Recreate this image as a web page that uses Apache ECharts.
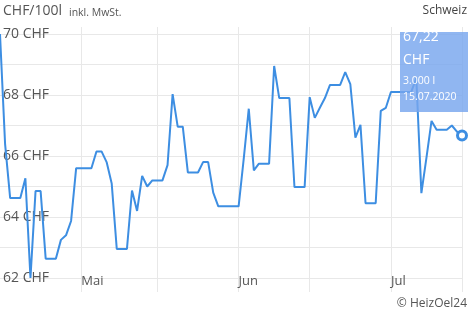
<!DOCTYPE html>
<html>
<head>
<meta charset="utf-8">
<script src="https://cdn.jsdelivr.net/npm/echarts@6/dist/echarts.min.js"></script>
<style>
html,body{margin:0;padding:0;background:#fff;}
#c{width:472px;height:320px;}
</style>
</head>
<body>
<div id="c"></div>
<script>
// daily dates 15.04.2020 - 15.07.2020
const startDate = '2020-04-15';
const dayCount = 92;
const prices = [
  70.0, 66.4, 64.62, 64.62, 64.62, 65.27, 62.0, 64.85, 64.85, 62.63,
  62.63, 62.63, 63.25, 63.4, 63.87, 65.6, 65.6, 65.6, 65.6, 66.15,
  66.15, 65.8, 65.1, 62.95, 62.95, 62.95, 64.87, 64.2, 65.35, 65.0,
  65.2, 65.2, 65.2, 65.7, 68.03, 66.96, 66.96, 65.46, 65.46, 65.46,
  65.8, 65.8, 64.8, 64.35, 64.35, 64.35, 64.35, 64.35, 65.9, 67.55,
  65.53, 65.75, 65.75, 65.75, 68.95, 67.9, 67.9, 67.9, 64.98, 64.98,
  64.98, 67.93, 67.25, 67.58, 67.9, 68.33, 68.33, 68.33, 68.75, 68.36,
  66.6, 67.02, 64.45, 64.45, 64.45, 67.48, 67.58, 68.1, 68.1, 68.1,
  68.1, 68.1, 68.55, 64.78, 65.95, 67.15, 66.86, 66.86, 66.86, 67.0,
  66.8, 66.67
];
const monthLabels = {'05-01':'Mai','06-01':'Jun','07-01':'Jul'};
const gridDays = ['05-01','05-16','06-01','06-15','07-01','07-15'];
const yTicks = [62, 64, 66, 68, 70];
const tooltipLines = ['67,22', 'CHF', '3.000 l', '15.07.2020'];

const dates = [];
(function(){
  const d0 = new Date(startDate + 'T12:00:00Z');
  for (let i = 0; i < dayCount; i++) {
    const d = new Date(d0.getTime() + i * 86400000);
    const mm = String(d.getUTCMonth() + 1).padStart(2, '0');
    const dd = String(d.getUTCDate()).padStart(2, '0');
    dates.push(mm + '-' + dd);
  }
})();

const gridFn = (idx, val) => gridDays.indexOf(val) >= 0;
const labelFn = (idx, val) => monthLabels[val] !== undefined;
const font = '"Open Sans", sans-serif';
const gridColor = '#e8e8e8';
const lineColor = '#3d8ee2';
const last = prices.length - 1;

const chart = echarts.init(document.getElementById('c'), null, {renderer: 'canvas'});
chart.setOption({
  animation: false,
  grid: {left: 0, right: 10, top: 34, bottom: 42, containLabel: false},
  xAxis: [{
    type: 'category',
    data: dates,
    boundaryGap: false,
    axisLine: {show: false},
    axisTick: {show: true, interval: gridFn, length: 14, lineStyle: {color: gridColor}},
    splitLine: {show: true, interval: gridFn, lineStyle: {color: gridColor}},
    axisLabel: {
      interval: labelFn,
      formatter: v => monthLabels[v] || '',
      align: 'left',
      verticalAlign: 'middle',
      margin: 3,
      color: '#555',
      fontSize: 13,
      fontFamily: font
    }
  }, {
    type: 'category',
    data: dates,
    position: 'top',
    boundaryGap: false,
    axisLine: {show: false},
    axisTick: {show: true, interval: gridFn, length: 7, lineStyle: {color: gridColor}},
    axisLabel: {show: false},
    splitLine: {show: false}
  }],
  yAxis: {
    type: 'value',
    min: 62, max: 70, interval: 1,
    axisLine: {show: false},
    axisTick: {show: false},
    splitLine: {lineStyle: {color: gridColor}},
    axisLabel: {
      inside: true,
      margin: 3,
      color: '#555',
      fontSize: 14,
      fontFamily: font,
      formatter: v => yTicks.indexOf(v) >= 0 ? v + ' CHF' : ''
    }
  },
  series: [{
    type: 'line',
    data: prices,
    showSymbol: false,
    symbol: 'none',
    lineStyle: {width: 2, color: lineColor},
    z: 3
  }, {
    type: 'scatter',
    data: [[dates[last], prices[last]]],
    symbol: 'circle',
    symbolSize: 9,
    itemStyle: {color: '#fff', borderColor: lineColor, borderWidth: 3, opacity: 1},
    z: 4
  }],
  graphic: [
    {type: 'text', left: 3, top: 4, z: 100,
     style: {text: 'CHF/100l', fill: '#555', font: '14px ' + font}},
    {type: 'text', left: 69, top: 8, z: 100,
     style: {text: 'inkl. MwSt.', fill: '#555', font: '10.5px ' + font}},
    {type: 'text', right: 5, top: 5, z: 100,
     style: {text: 'Schweiz', fill: '#444', font: '12px ' + font}},
    {type: 'text', right: 5, top: 298, z: 100,
     style: {text: '\u00a9 HeizOel24', fill: '#555', font: '12px ' + font}},
    {type: 'rect', left: 400, top: 32, z: 100,
     shape: {width: 68, height: 80},
     style: {fill: 'rgba(120,166,238,0.82)'}},
    {type: 'text', left: 403, top: 30, z: 101,
     style: {text: tooltipLines[0], fill: '#fff', font: '14px ' + font}},
    {type: 'text', left: 403, top: 53, z: 101,
     style: {text: tooltipLines[1], fill: '#fff', font: '14px ' + font}},
    {type: 'text', left: 403, top: 76, z: 101,
     style: {text: tooltipLines[2], fill: '#fff', font: '10.5px ' + font}},
    {type: 'text', left: 403, top: 92, z: 101,
     style: {text: tooltipLines[3], fill: '#fff', font: '10.5px ' + font}}
  ]
});
</script>
</body>
</html>
